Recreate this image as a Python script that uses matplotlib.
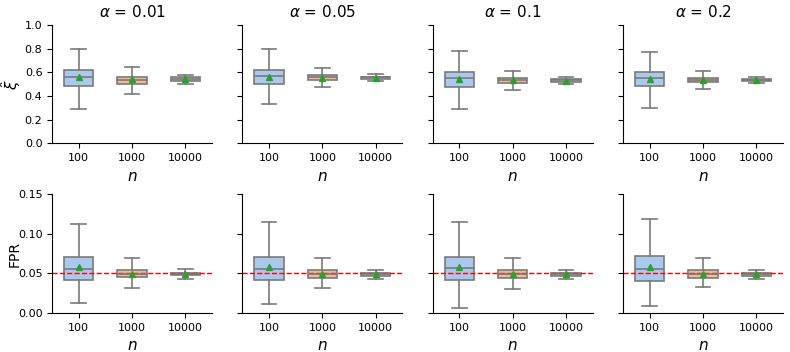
import matplotlib
matplotlib.use("Agg")
import matplotlib.pyplot as plt

alphas = ["0.01", "0.05", "0.1", "0.2"]
ns = ["100", "1000", "10000"]

# xi-hat stats per alpha: rows are n, columns are (whislo, q1, med, q3, whishi, mean)
xi_stats = [
    [[0.29, 0.483, 0.565, 0.62, 0.80, 0.557],
     [0.418, 0.506, 0.534, 0.565, 0.644, 0.54],
     [0.503, 0.528, 0.542, 0.557, 0.579, 0.54]],
    [[0.333, 0.506, 0.568, 0.624, 0.797, 0.56],
     [0.477, 0.534, 0.557, 0.579, 0.638, 0.555],
     [0.531, 0.545, 0.557, 0.565, 0.585, 0.553]],
    [[0.29, 0.477, 0.555, 0.606, 0.777, 0.54],
     [0.45, 0.51, 0.537, 0.555, 0.614, 0.535],
     [0.505, 0.52, 0.535, 0.54, 0.557, 0.53]],
    [[0.30, 0.483, 0.55, 0.606, 0.773, 0.54],
     [0.463, 0.517, 0.537, 0.555, 0.61, 0.535],
     [0.51, 0.525, 0.537, 0.543, 0.56, 0.533]],
]

fpr_stats = [
    [[0.0122, 0.0416, 0.056, 0.0706, 0.113, 0.0585],
     [0.031, 0.045, 0.0496, 0.0547, 0.0693, 0.049],
     [0.0433, 0.0475, 0.0493, 0.051, 0.055, 0.049]],
    [[0.011, 0.0417, 0.056, 0.0714, 0.115, 0.058],
     [0.031, 0.0446, 0.0493, 0.0544, 0.069, 0.049],
     [0.0433, 0.047, 0.049, 0.051, 0.0548, 0.049]],
    [[0.0064, 0.0417, 0.0565, 0.0714, 0.1155, 0.0578],
     [0.0302, 0.0446, 0.049, 0.0548, 0.0701, 0.049],
     [0.0429, 0.047, 0.049, 0.0506, 0.0548, 0.049]],
    [[0.0089, 0.0404, 0.056, 0.0722, 0.119, 0.0586],
     [0.0323, 0.0446, 0.049, 0.0544, 0.0697, 0.049],
     [0.0433, 0.047, 0.049, 0.0506, 0.0548, 0.049]],
]

colors = ["#abc9ec", "#f1bb96", "#9fd8ab"]
edge = "#7a7a7a"


def make_stats(rows):
    out = []
    for lab, r in zip(ns, rows):
        out.append(dict(label=lab, whislo=r[0], q1=r[1], med=r[2], q3=r[3],
                        whishi=r[4], mean=r[5], fliers=[]))
    return out


def draw(ax, rows):
    bp = ax.bxp(make_stats(rows), positions=range(len(ns)), widths=0.55,
                showmeans=True, patch_artist=True,
                boxprops=dict(edgecolor=edge, linewidth=1.2),
                whiskerprops=dict(color=edge, linewidth=1.2),
                capprops=dict(color=edge, linewidth=1.2),
                medianprops=dict(color=edge, linewidth=1.2),
                meanprops=dict(marker="^", markerfacecolor="#2ca02c",
                               markeredgecolor="#2ca02c", markersize=5))
    for patch, c in zip(bp["boxes"], colors):
        patch.set_facecolor(c)
    ax.set_xlim(-0.5, 2.5)
    ax.set_xticks(range(len(ns)))
    ax.set_xticklabels(ns)
    ax.set_xlabel("$n$", fontsize=11)
    ax.spines["top"].set_visible(False)
    ax.spines["right"].set_visible(False)
    ax.tick_params(labelsize=8)


fig, axes = plt.subplots(2, 4, figsize=(7.9, 3.52), dpi=100, sharey="row")
fig.subplots_adjust(left=0.066, right=0.991, top=0.929, bottom=0.111,
                    wspace=0.19, hspace=0.43)

for j in range(4):
    ax = axes[0, j]
    draw(ax, xi_stats[j])
    ax.set_ylim(0, 1.0)
    ax.set_yticks([0.0, 0.2, 0.4, 0.6, 0.8, 1.0])
    ax.set_title(r"$\alpha$ = " + alphas[j], fontsize=11)

    ax = axes[1, j]
    draw(ax, fpr_stats[j])
    ax.axhline(0.05, color="red", linestyle="--", linewidth=1)
    ax.set_ylim(0, 0.15)
    ax.set_yticks([0.0, 0.05, 0.10, 0.15])

axes[0, 0].set_ylabel(r"$\hat{\xi}$", fontsize=11)
axes[0, 0].yaxis.set_label_coords(-0.18, 0.5)
axes[1, 0].set_ylabel("FPR", fontsize=10)
axes[1, 0].yaxis.set_label_coords(-0.19, 0.5)
for j in range(1, 4):
    axes[0, j].tick_params(labelleft=False)
    axes[1, j].tick_params(labelleft=False)

fig.savefig("out.png", dpi=100)
